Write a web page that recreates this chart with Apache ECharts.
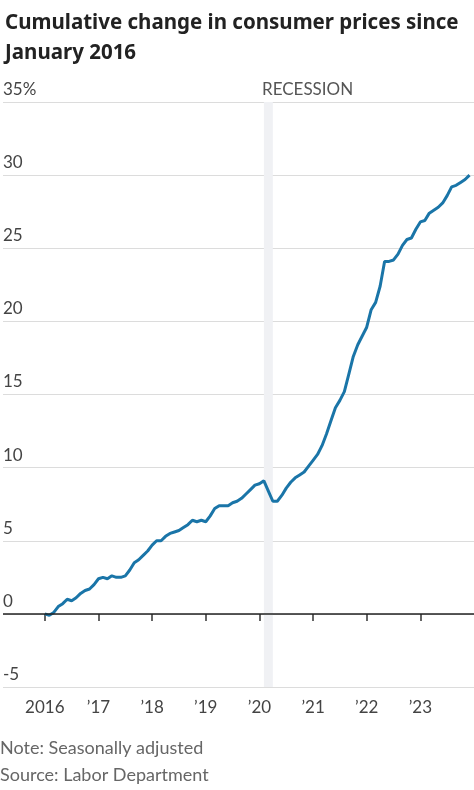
<!DOCTYPE html>
<html>
<head>
<meta charset="utf-8">
<script src="https://cdn.jsdelivr.net/npm/echarts@6/dist/echarts.min.js"></script>
<style>
  body { margin: 0; background: #fff; }
  #chart { width: 474px; height: 790px; }
</style>
</head>
<body>
<div id="chart"></div>
<script>
// monthly cumulative change, Jan 2016 - Dec 2023 (%)
const years = [2016, 2017, 2018, 2019, 2020, 2021, 2022, 2023];
const values2016 = [0, -0.1, 0.1, 0.5, 0.7, 1.0, 0.9, 1.1, 1.4, 1.6, 1.7, 2.0];
const values2017 = [2.4, 2.5, 2.4, 2.6, 2.5, 2.5, 2.6, 3.0, 3.5, 3.7, 4.0, 4.3];
const values2018 = [4.7, 5.0, 5.0, 5.3, 5.5, 5.6, 5.7, 5.9, 6.1, 6.4, 6.3, 6.4];
const values2019 = [6.3, 6.7, 7.2, 7.4, 7.4, 7.4, 7.6, 7.7, 7.9, 8.2, 8.5, 8.8];
const values2020 = [8.9, 9.1, 8.4, 7.7, 7.7, 8.1, 8.6, 9.0, 9.3, 9.5, 9.7, 10.1];
const values2021 = [10.5, 10.9, 11.5, 12.3, 13.2, 14.1, 14.6, 15.2, 16.4, 17.6, 18.4, 19.0];
const values2022 = [19.6, 20.8, 21.3, 22.4, 24.1, 24.1, 24.2, 24.6, 25.2, 25.6, 25.7, 26.3];
const values2023 = [26.8, 26.9, 27.4, 27.6, 27.8, 28.1, 28.6, 29.2, 29.3, 29.5, 29.7, 30.0];
const yTicks = [-5, 0, 5, 10, 15, 20, 25, 30, 35];
const recession = [2020 + 1 / 12, 2020 + 3 / 12];

const allYears = [values2016, values2017, values2018, values2019, values2020, values2021, values2022, values2023];
const data = [];
allYears.forEach(function (vals, i) {
  vals.forEach(function (v, m) {
    data.push([years[i] + m / 12, v]);
  });
});

const font = 'Lato, Noto Sans, sans-serif';
const chart = echarts.init(document.getElementById('chart'));
chart.setOption({
  animation: false,
  title: {
    text: 'Cumulative change in consumer prices since\nJanuary 2016',
    left: 0, top: 3,
    textStyle: { fontFamily: 'Noto Sans', fontSize: 20.5, fontWeight: 'bold', color: '#222', lineHeight: 30 }
  },
  grid: { left: 0, right: 0, top: 102, bottom: 103 },
  xAxis: {
    type: 'value',
    min: 2015.22, max: 2024,
    splitLine: { show: false },
    axisLine: { show: false },
    axisTick: { show: true, length: 7, lineStyle: { color: '#333', width: 1.5 }, customValues: years },
    axisLabel: {
      customValues: years, margin: 12, color: '#444', fontFamily: font, fontSize: 17,
      formatter: function (v) { return v === 2016 ? '2016' : '\u2019' + String(v).slice(2); }
    }
  },
  yAxis: {
    type: 'value',
    min: yTicks[0], max: yTicks[yTicks.length - 1], interval: 5,
    axisLine: { show: false },
    axisTick: { show: false },
    splitLine: { lineStyle: { color: '#dcdcdc', width: 1 } },
    axisLabel: {
      inside: true, margin: 0, verticalAlign: 'bottom', padding: [0, 0, 4, 0],
      color: '#444', fontFamily: font, fontSize: 17,
      formatter: function (v) { return v === 35 ? '35%' : String(v); }
    }
  },
  series: [{
    type: 'line',
    data: data,
    showSymbol: false,
    lineStyle: { color: '#1a75a8', width: 3 },
    markArea: {
      silent: true,
      itemStyle: { color: '#f0f1f4' },
      label: { show: false },
      data: [[{ xAxis: recession[0] }, { xAxis: recession[1] }]]
    },
    markLine: {
      silent: true, symbol: 'none',
      lineStyle: { color: '#222', width: 1.5, type: 'solid' },
      label: { show: false },
      data: [{ yAxis: 0 }]
    }
  }],
  graphic: [
    { type: 'text', left: 0, top: 739, style: { text: 'Note: Seasonally adjusted', font: '18px ' + font, fill: '#666' } },
    { type: 'text', left: 0, top: 766, style: { text: 'Source: Labor Department', font: '18px ' + font, fill: '#666' } },
    { type: 'text', left: 262, top: 81, style: { text: 'RECESSION', font: '17px ' + font, fill: '#555' } }
  ]
});
</script>
</body>
</html>
